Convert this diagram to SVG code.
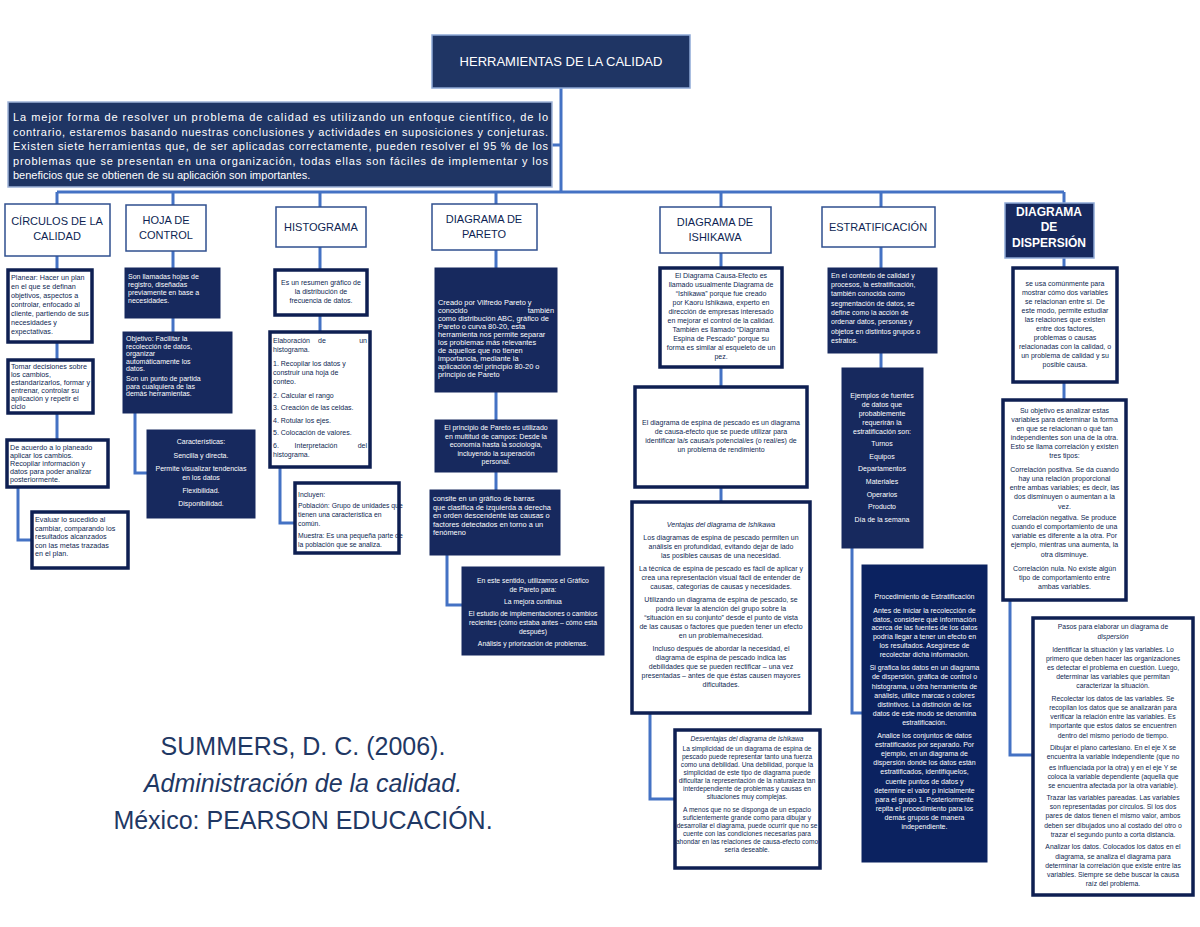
<svg xmlns="http://www.w3.org/2000/svg" width="1200" height="927" viewBox="0 0 1200 927">
<style>
text{font-family:'Liberation Sans',Arial,sans-serif}
.con{fill:none;stroke:#4472c4;stroke-width:3}
.dk{fill:#17295e;stroke:#17295e;stroke-width:1}
.wb{fill:#fff;stroke:#0e1f52;stroke-width:3.5}
.hd{fill:#fff;stroke:#2f4f8f;stroke-width:1.5}
.tw{fill:#fff}
.tn{fill:#0e1f52}
.ht{fill:#0e1f52;font-size:11px;text-anchor:middle}
.c{text-anchor:middle}
.e{text-anchor:end}
.cit{fill:#1f3864;font-size:25px;text-anchor:middle}
</style>
<g id="connectors">
<path class="con" d="M561 88V192M552 145H561M57 192H1064"/>
<path class="con" d="M57 192V440M18 487V540H32"/>
<path class="con" d="M173 192V332M135 413V473H147"/>
<path class="con" d="M320 192V332M280 467V523H295"/>
<path class="con" d="M496 192V490M447 555V605H462"/>
<path class="con" d="M721 192V502M650 713V799H675"/>
<path class="con" d="M881 192V368M852 548V713H862"/>
<path class="con" d="M1064 192V400M1010 600V755H1033"/>
</g>
<g id="title"><rect x="432" y="35" width="258" height="53" fill="#1f3564" stroke="#8fa9d6" stroke-width="1.5"/><text class="tw c" x="561" y="66" font-size="13">HERRAMIENTAS DE LA CALIDAD</text></g>
<g id="intro"><rect x="8" y="102" width="544" height="85" fill="#1f3564" stroke="#a0b4d8" stroke-width="1.5"/>
<text class="tw" font-size="11">
<tspan x="13" y="121" textLength="535" lengthAdjust="spacing">La mejor forma de resolver un problema de calidad es utilizando un enfoque científico, de lo</tspan>
<tspan x="13" y="135.5" textLength="535" lengthAdjust="spacing">contrario, estaremos basando nuestras conclusiones y actividades en suposiciones y conjeturas.</tspan>
<tspan x="13" y="150" textLength="535" lengthAdjust="spacing">Existen siete herramientas que, de ser aplicadas correctamente, pueden resolver el 95 % de los</tspan>
<tspan x="13" y="164.5" textLength="535" lengthAdjust="spacing">problemas que se presentan en una organización, todas ellas son fáciles de implementar y los</tspan>
<tspan x="13" y="179">beneficios que se obtienen de su aplicación son importantes.</tspan>
</text></g>

<g id="h-circulos"><rect class="hd" x="5" y="204" width="105" height="52"/><text class="ht"><tspan x="57" y="225">CÍRCULOS DE LA</tspan><tspan x="57" y="240">CALIDAD</tspan></text></g>
<g id="h-hoja"><rect class="hd" x="126" y="205" width="80" height="46"/><text class="ht"><tspan x="166" y="224">HOJA DE</tspan><tspan x="166" y="239">CONTROL</tspan></text></g>
<g id="h-histograma"><rect class="hd" x="276" y="207" width="90" height="40"/><text class="ht" x="321" y="231">HISTOGRAMA</text></g>
<g id="h-pareto"><rect class="hd" x="432" y="204" width="105" height="46"/><text class="ht"><tspan x="484" y="223">DIAGRAMA DE</tspan><tspan x="484" y="238">PARETO</tspan></text></g>
<g id="h-ishikawa"><rect class="hd" x="660" y="207" width="111" height="46"/><text class="ht"><tspan x="715" y="226">DIAGRAMA DE</tspan><tspan x="715" y="241">ISHIKAWA</tspan></text></g>
<g id="h-estrat"><rect class="hd" x="822" y="207" width="113" height="40"/><text class="ht" x="878" y="231" font-size="10">ESTRATIFICACIÓN</text></g>
<g id="h-dispersion"><rect x="1005" y="203" width="89" height="55" fill="#17295e" stroke="#8fa9d6" stroke-width="1.5"/><text class="tw c" font-size="12" font-weight="bold"><tspan x="1049" y="216">DIAGRAMA</tspan><tspan x="1049" y="231">DE</tspan><tspan x="1049" y="247">DISPERSIÓN</tspan></text></g>

<g id="c1a"><rect class="wb" x="8" y="270" width="84" height="72"/><text class="tn" font-size="7.2">
<tspan x="11" y="280">Planear: Hacer un plan</tspan><tspan x="11" y="289">en el que se definan</tspan><tspan x="11" y="298">objetivos, aspectos a</tspan><tspan x="11" y="307">controlar, enfocado al</tspan><tspan x="11" y="316">cliente, partiendo de sus</tspan><tspan x="11" y="325">necesidades y</tspan><tspan x="11" y="334">expectativas.</tspan></text></g>
<g id="c1b"><rect class="wb" x="8" y="360" width="85" height="53"/><text class="tn" font-size="7.2">
<tspan x="11" y="369">Tomar decisiones sobre</tspan><tspan x="11" y="377">los cambios,</tspan><tspan x="11" y="385">estandarizarlos, formar y</tspan><tspan x="11" y="393">entrenar, controlar su</tspan><tspan x="11" y="401">aplicación y repetir el</tspan><tspan x="11" y="409">ciclo</tspan></text></g>
<g id="c1c"><rect class="wb" x="7" y="440" width="101" height="47"/><text class="tn" font-size="7.2">
<tspan x="10" y="450">De acuerdo a lo planeado</tspan><tspan x="10" y="458">aplicar los cambios.</tspan><tspan x="10" y="466">Recopilar información y</tspan><tspan x="10" y="474">datos para poder analizar</tspan><tspan x="10" y="482">posteriormente.</tspan></text></g>
<g id="c1d"><rect class="wb" x="32" y="512" width="96" height="56"/><text class="tn" font-size="7.2">
<tspan x="35" y="522">Evaluar lo sucedido al</tspan><tspan x="35" y="531">cambiar, comparando los</tspan><tspan x="35" y="539">resultados alcanzados</tspan><tspan x="35" y="548">con las metas  trazadas</tspan><tspan x="35" y="556">en el plan.</tspan></text></g>

<g id="c2a"><rect class="dk" x="125" y="268" width="95" height="50"/><text class="tw" font-size="7">
<tspan x="128" y="279">Son llamadas hojas de</tspan><tspan x="128" y="287">registro, diseñadas</tspan><tspan x="128" y="295">previamente en base a</tspan><tspan x="128" y="303">necesidades.</tspan></text></g>
<g id="c2b"><rect class="dk" x="123" y="332" width="109" height="81"/><text class="tw" font-size="7">
<tspan x="126" y="341">Objetivo: Facilitar la</tspan><tspan x="126" y="348.5">recolección de datos,</tspan><tspan x="126" y="356">organizar</tspan><tspan x="126" y="363.5">automáticamente los</tspan><tspan x="126" y="371">datos.</tspan><tspan x="126" y="381">Son un punto de partida</tspan><tspan x="126" y="388.5">para cualquiera de las</tspan><tspan x="126" y="396">demás herramientas.</tspan></text></g>
<g id="c2c"><rect class="dk" x="147" y="430" width="108" height="88"/><text class="tw c" font-size="7">
<tspan x="201" y="444">Características:</tspan><tspan x="201" y="458">Sencilla y directa.</tspan><tspan x="201" y="471">Permite visualizar tendencias</tspan><tspan x="201" y="480">en los datos</tspan><tspan x="201" y="493">Flexibilidad.</tspan><tspan x="201" y="506">Disponibilidad.</tspan></text></g>

<g id="c3a"><rect class="wb" x="275" y="270" width="92" height="45"/><text class="tn c" font-size="7">
<tspan x="321" y="285">Es un resumen gráfico de</tspan><tspan x="321" y="294">la distribución de</tspan><tspan x="321" y="303">frecuencia de datos.</tspan></text></g>
<g id="c3b"><rect class="wb" x="270" y="332" width="100" height="135"/>
<text class="tn" font-size="7" x="273" y="343">Elaboración</text><text class="tn c" font-size="7" x="322" y="343">de</text><text class="tn e" font-size="7" x="367" y="343">un</text>
<text class="tn" font-size="7">
<tspan x="273" y="352">histograma.</tspan><tspan x="273" y="366">1. Recopilar los datos y</tspan><tspan x="273" y="375">construir una hoja de</tspan><tspan x="273" y="384">conteo.</tspan><tspan x="273" y="398">2. Calcular el rango</tspan><tspan x="273" y="410">3. Creación de las celdas.</tspan><tspan x="273" y="423">4. Rotular los ejes.</tspan><tspan x="273" y="435">5. Colocación de valores.</tspan><tspan x="273" y="457">histograma.</tspan></text>
<text class="tn" font-size="7" x="273" y="448">6.</text><text class="tn c" font-size="7" x="316" y="448">Interpretación</text><text class="tn e" font-size="7" x="367" y="448">del</text></g>
<g id="c3c"><rect class="wb" x="295" y="483" width="104" height="70"/><text class="tn" font-size="6.8">
<tspan x="298" y="497">Incluyen:</tspan><tspan x="298" y="508">Población: Grupo de unidades que</tspan><tspan x="298" y="517">tienen una característica en</tspan><tspan x="298" y="526">común.</tspan><tspan x="298" y="538">Muestra: Es una pequeña parte de</tspan><tspan x="298" y="547">la población que se analiza.</tspan></text></g>

<g id="c4a"><rect class="dk" x="435" y="268" width="122" height="124"/>
<text class="tw" font-size="7.4" x="438" y="313">conocido</text><text class="tw e" font-size="7.4" x="554" y="313">también</text>
<text class="tw" font-size="7.4">
<tspan x="438" y="305">Creado por Vilfredo Pareto y</tspan><tspan x="438" y="321">como distribución ABC, gráfico de</tspan><tspan x="438" y="329">Pareto o curva 80-20, esta</tspan><tspan x="438" y="337">herramienta nos permite separar</tspan><tspan x="438" y="345">los problemas más relevantes</tspan><tspan x="438" y="353">de aquellos que no tienen</tspan><tspan x="438" y="361">importancia, mediante la</tspan><tspan x="438" y="369">aplicación del principio 80-20 o</tspan><tspan x="438" y="377">principio de Pareto</tspan></text></g>
<g id="c4b"><rect class="dk" x="435" y="420" width="122" height="52"/><text class="tw c" font-size="7">
<tspan x="496" y="430">El principio de Pareto es utilizado</tspan><tspan x="496" y="438.5">en multitud de campos: Desde la</tspan><tspan x="496" y="447">economía hasta la sociología,</tspan><tspan x="496" y="455.5">incluyendo la superación</tspan><tspan x="496" y="464">personal.</tspan></text></g>
<g id="c4c"><rect class="dk" x="430" y="490" width="130" height="65"/><text class="tw" font-size="7.4">
<tspan x="433" y="501">consite en un gráfico de barras</tspan><tspan x="433" y="509.5">que clasifica de izquierda a derecha</tspan><tspan x="433" y="518">en orden descendente las causas o</tspan><tspan x="433" y="526.5">factores detectados en torno a un</tspan><tspan x="433" y="535">fenómeno</tspan></text></g>
<g id="c4d"><rect class="dk" x="462" y="567" width="142" height="88"/><text class="tw c" font-size="6.8">
<tspan x="533" y="583">En este sentido, utilizamos el Gráfico</tspan><tspan x="533" y="592">de Pareto para:</tspan><tspan x="533" y="604">La mejora continua</tspan><tspan x="533" y="616">El estudio de implementaciones o cambios</tspan><tspan x="533" y="625">recientes (cómo estaba antes – cómo esta</tspan><tspan x="533" y="634">después)</tspan><tspan x="533" y="646">Análisis y priorización de problemas.</tspan></text></g>

<g id="c5a"><rect class="wb" x="660" y="268" width="122" height="99"/><text class="tn c" font-size="7">
<tspan x="721" y="278">El Diagrama Causa-Efecto es</tspan><tspan x="721" y="287">llamado usualmente Diagrama de</tspan><tspan x="721" y="296">“Ishikawa” porque fue creado</tspan><tspan x="721" y="305">por Kaoru Ishikawa, experto en</tspan><tspan x="721" y="314">dirección de empresas interesado</tspan><tspan x="721" y="323">en mejorar el control de la calidad.</tspan><tspan x="721" y="332">También es llamado “Diagrama</tspan><tspan x="721" y="341">Espina de Pescado” porque su</tspan><tspan x="721" y="350">forma es similar al esqueleto de un</tspan><tspan x="721" y="359">pez.</tspan></text></g>
<g id="c5b"><rect class="wb" x="635" y="387" width="172" height="100"/><text class="tn c" font-size="7">
<tspan x="721" y="425">El diagrama de espina de pescado es un diagrama</tspan><tspan x="721" y="434">de causa-efecto que se puede utilizar para</tspan><tspan x="721" y="443">identificar la/s causa/s potencial/es (o real/es) de</tspan><tspan x="721" y="452">un problema de rendimiento</tspan></text></g>
<g id="c5c"><rect class="wb" x="632" y="502" width="178" height="211"/><text class="tn c" font-size="7">
<tspan x="721" y="527" font-style="italic">Ventajas del diagrama de Ishikawa</tspan><tspan x="721" y="540">Los diagramas de espina de pescado permiten un</tspan><tspan x="721" y="549">análisis en profundidad, evitando dejar de lado</tspan><tspan x="721" y="558">las posibles causas de una necesidad.</tspan><tspan x="721" y="571">La técnica de espina de pescado es fácil de aplicar y</tspan><tspan x="721" y="580">crea una representación visual fácil de entender de</tspan><tspan x="721" y="589">causas, categorías de causas y necesidades.</tspan><tspan x="721" y="602">Utilizando un diagrama de espina de pescado, se</tspan><tspan x="721" y="611">podrá llevar la atención del grupo sobre la</tspan><tspan x="721" y="620">“situación en su conjunto” desde el punto de vista</tspan><tspan x="721" y="629">de las causas o factores que pueden tener un efecto</tspan><tspan x="721" y="638">en un problema/necesidad.</tspan><tspan x="721" y="651">Incluso después de abordar la necesidad, el</tspan><tspan x="721" y="660">diagrama de espina de pescado indica las</tspan><tspan x="721" y="669">debilidades que se pueden rectificar – una vez</tspan><tspan x="721" y="678">presentadas – antes de que éstas causen mayores</tspan><tspan x="721" y="687">dificultades.</tspan></text></g>
<g id="c5d"><rect class="wb" x="675" y="730" width="145" height="138"/><text class="tn c" font-size="6.6">
<tspan x="747" y="741" font-style="italic">Desventajas del diagrama de Ishikawa</tspan><tspan x="747" y="751">La simplicidad de un diagrama de espina de</tspan><tspan x="747" y="759">pescado puede representar tanto una fuerza</tspan><tspan x="747" y="767">como una debilidad. Una debilidad, porque la</tspan><tspan x="747" y="775">simplicidad de este tipo de diagrama puede</tspan><tspan x="747" y="783">dificultar la representación de la naturaleza tan</tspan><tspan x="747" y="791">interdependiente de problemas y causas en</tspan><tspan x="747" y="799">situaciones muy complejas.</tspan><tspan x="747" y="812">A menos que no se disponga de un espacio</tspan><tspan x="747" y="820">suficientemente grande como para dibujar y</tspan><tspan x="747" y="828">desarrollar el diagrama, puede ocurrir que no se</tspan><tspan x="747" y="836">cuente con las condiciones necesarias para</tspan><tspan x="747" y="844">ahondar en las relaciones de causa-efecto como</tspan><tspan x="747" y="852">sería deseable.</tspan></text></g>

<g id="c6a"><rect class="dk" x="828" y="268" width="109" height="85"/><text class="tw" font-size="7">
<tspan x="831" y="278">En el contexto de calidad y</tspan><tspan x="831" y="287">procesos, la estratificación,</tspan><tspan x="831" y="296">también conocida como</tspan><tspan x="831" y="305.5">segmentación de datos, se</tspan><tspan x="831" y="314.5">define como la acción de</tspan><tspan x="831" y="324">ordenar datos, personas y</tspan><tspan x="831" y="333.5">objetos en distintos grupos o</tspan><tspan x="831" y="343">estratos.</tspan></text></g>
<g id="c6b"><rect class="dk" x="842" y="368" width="81" height="180"/><text class="tw c" font-size="7">
<tspan x="882" y="398">Ejemplos de fuentes</tspan><tspan x="882" y="406.5">de datos que</tspan><tspan x="882" y="415.5">probablemente</tspan><tspan x="882" y="424.5">requerirán la</tspan><tspan x="882" y="433.5">estratificación son:</tspan><tspan x="882" y="446">Turnos</tspan><tspan x="882" y="459">Equipos</tspan><tspan x="882" y="471">Departamentos</tspan><tspan x="882" y="484">Materiales</tspan><tspan x="882" y="497">Operarios</tspan><tspan x="882" y="509">Producto</tspan><tspan x="882" y="522">Día de la semana</tspan></text></g>
<g id="c6c"><rect x="862" y="565" width="125" height="297" fill="#0b2260" stroke="#0b2260"/><text class="tw c" font-size="7">
<tspan x="924.5" y="599">Procedimiento de Estratificación</tspan><tspan x="924.5" y="613">Antes de iniciar la recolección de</tspan><tspan x="924.5" y="621.5">datos, considere qué información</tspan><tspan x="924.5" y="630">acerca de las fuentes de los datos</tspan><tspan x="924.5" y="639">podría llegar a tener un efecto en</tspan><tspan x="924.5" y="648">los resultados. Asegúrese de</tspan><tspan x="924.5" y="657">recolectar dicha información.</tspan><tspan x="924.5" y="670">Si grafica los datos en un diagrama</tspan><tspan x="924.5" y="679">de dispersión, gráfica de control o</tspan><tspan x="924.5" y="688.5">histograma, u otra herramienta de</tspan><tspan x="924.5" y="697.5">análisis, utilice marcas o colores</tspan><tspan x="924.5" y="707">distintivos. La distinción de los</tspan><tspan x="924.5" y="716">datos de este modo se denomina</tspan><tspan x="924.5" y="725">estratificación.</tspan><tspan x="924.5" y="738">Analice los conjuntos de datos</tspan><tspan x="924.5" y="747">estratificados por separado. Por</tspan><tspan x="924.5" y="756">ejemplo, en un diagrama de</tspan><tspan x="924.5" y="765">dispersión donde los datos están</tspan><tspan x="924.5" y="774">estratificados, identifíquelos,</tspan><tspan x="924.5" y="783.5">cuente puntos de datos y</tspan><tspan x="924.5" y="792.5">determine el valor p inicialmente</tspan><tspan x="924.5" y="801.5">para el grupo 1. Posteriormente</tspan><tspan x="924.5" y="810.5">repita el procedimiento para los</tspan><tspan x="924.5" y="819.5">demás grupos de manera</tspan><tspan x="924.5" y="828.5">independiente.</tspan></text></g>

<g id="c7a"><rect class="wb" x="1013" y="268" width="104" height="114"/><text class="tn c" font-size="7">
<tspan x="1065" y="286">se usa comúnmente para</tspan><tspan x="1065" y="294.5">mostrar cómo dos variables</tspan><tspan x="1065" y="303.5">se relacionan entre sí. De</tspan><tspan x="1065" y="312.5">este modo, permite estudiar</tspan><tspan x="1065" y="321.5">las relaciones que existen</tspan><tspan x="1065" y="330.5">entre dos factores,</tspan><tspan x="1065" y="339.5">problemas o causas</tspan><tspan x="1065" y="348.5">relacionadas con la calidad, o</tspan><tspan x="1065" y="358">un problema de calidad y su</tspan><tspan x="1065" y="367">posible causa.</tspan></text></g>
<g id="c7b"><rect class="wb" x="1003" y="400" width="123" height="200"/><text class="tn c" font-size="7">
<tspan x="1064.5" y="413">Su objetivo es analizar estas</tspan><tspan x="1064.5" y="422">variables para determinar la forma</tspan><tspan x="1064.5" y="431">en que se relacionan o qué tan</tspan><tspan x="1064.5" y="440">independientes son una de la otra.</tspan><tspan x="1064.5" y="449">Esto se llama correlación y existen</tspan><tspan x="1064.5" y="458">tres tipos:</tspan><tspan x="1064.5" y="472">Correlación positiva. Se da cuando</tspan><tspan x="1064.5" y="481">hay una relación proporcional</tspan><tspan x="1064.5" y="490">entre ambas variables; es decir, las</tspan><tspan x="1064.5" y="499">dos disminuyen o aumentan a la</tspan><tspan x="1064.5" y="508.5">vez.</tspan><tspan x="1064.5" y="520">Correlación negativa. Se produce</tspan><tspan x="1064.5" y="529">cuando el comportamiento de una</tspan><tspan x="1064.5" y="538">variable es diferente a la otra. Por</tspan><tspan x="1064.5" y="547">ejemplo, mientras una aumenta, la</tspan><tspan x="1064.5" y="556.5">otra disminuye.</tspan><tspan x="1064.5" y="571">Correlación nula. No existe algún</tspan><tspan x="1064.5" y="580">tipo de comportamiento entre</tspan><tspan x="1064.5" y="589">ambas variables.</tspan></text></g>
<g id="c7c"><rect class="wb" x="1033" y="618" width="160" height="277"/><text class="tn c" font-size="6.8">
<tspan x="1113" y="629">Pasos para elaborar un diagrama de</tspan><tspan x="1113" y="639" font-style="italic">dispersión</tspan><tspan x="1113" y="652">Identificar la situación y las variables. Lo</tspan><tspan x="1113" y="661">primero que deben hacer las organizaciones</tspan><tspan x="1113" y="670">es detectar el problema en cuestión. Luego,</tspan><tspan x="1113" y="679">determinar las variables que permitan</tspan><tspan x="1113" y="688">caracterizar la situación.</tspan><tspan x="1113" y="701">Recolectar los datos de las variables. Se</tspan><tspan x="1113" y="710">recopilan los datos que se analizarán para</tspan><tspan x="1113" y="719">verificar la relación entre las variables. Es</tspan><tspan x="1113" y="728">importante que estos datos se encuentren</tspan><tspan x="1113" y="738">dentro del mismo período de tiempo.</tspan><tspan x="1113" y="750">Dibujar el plano cartesiano. En el eje X se</tspan><tspan x="1113" y="759">encuentra la variable independiente (que no</tspan><tspan x="1113" y="770">es influenciada por la otra) y en el eje Y se</tspan><tspan x="1113" y="779">coloca la variable dependiente (aquella que</tspan><tspan x="1113" y="788">se encuentra afectada por la otra variable).</tspan><tspan x="1113" y="800">Trazar las variables pareadas. Las variables</tspan><tspan x="1113" y="809">son representadas por círculos. Si los dos</tspan><tspan x="1113" y="818">pares de datos tienen el mismo valor, ambos</tspan><tspan x="1113" y="828">deben ser dibujados uno al costado del otro o</tspan><tspan x="1113" y="837">trazar el segundo punto a corta distancia.</tspan><tspan x="1113" y="849">Analizar los datos. Colocados los datos en el</tspan><tspan x="1113" y="859">diagrama, se analiza el diagrama para</tspan><tspan x="1113" y="868">determinar la correlación que existe entre las</tspan><tspan x="1113" y="877">variables. Siempre se debe buscar la causa</tspan><tspan x="1113" y="886">raíz del problema.</tspan></text></g>

<g id="citation"><text class="cit"><tspan x="303" y="755">SUMMERS, D. C. (2006).</tspan><tspan x="303" y="792" font-style="italic">Administración de la calidad.</tspan><tspan x="303" y="829">México: PEARSON EDUCACIÓN.</tspan></text></g>
</svg>
